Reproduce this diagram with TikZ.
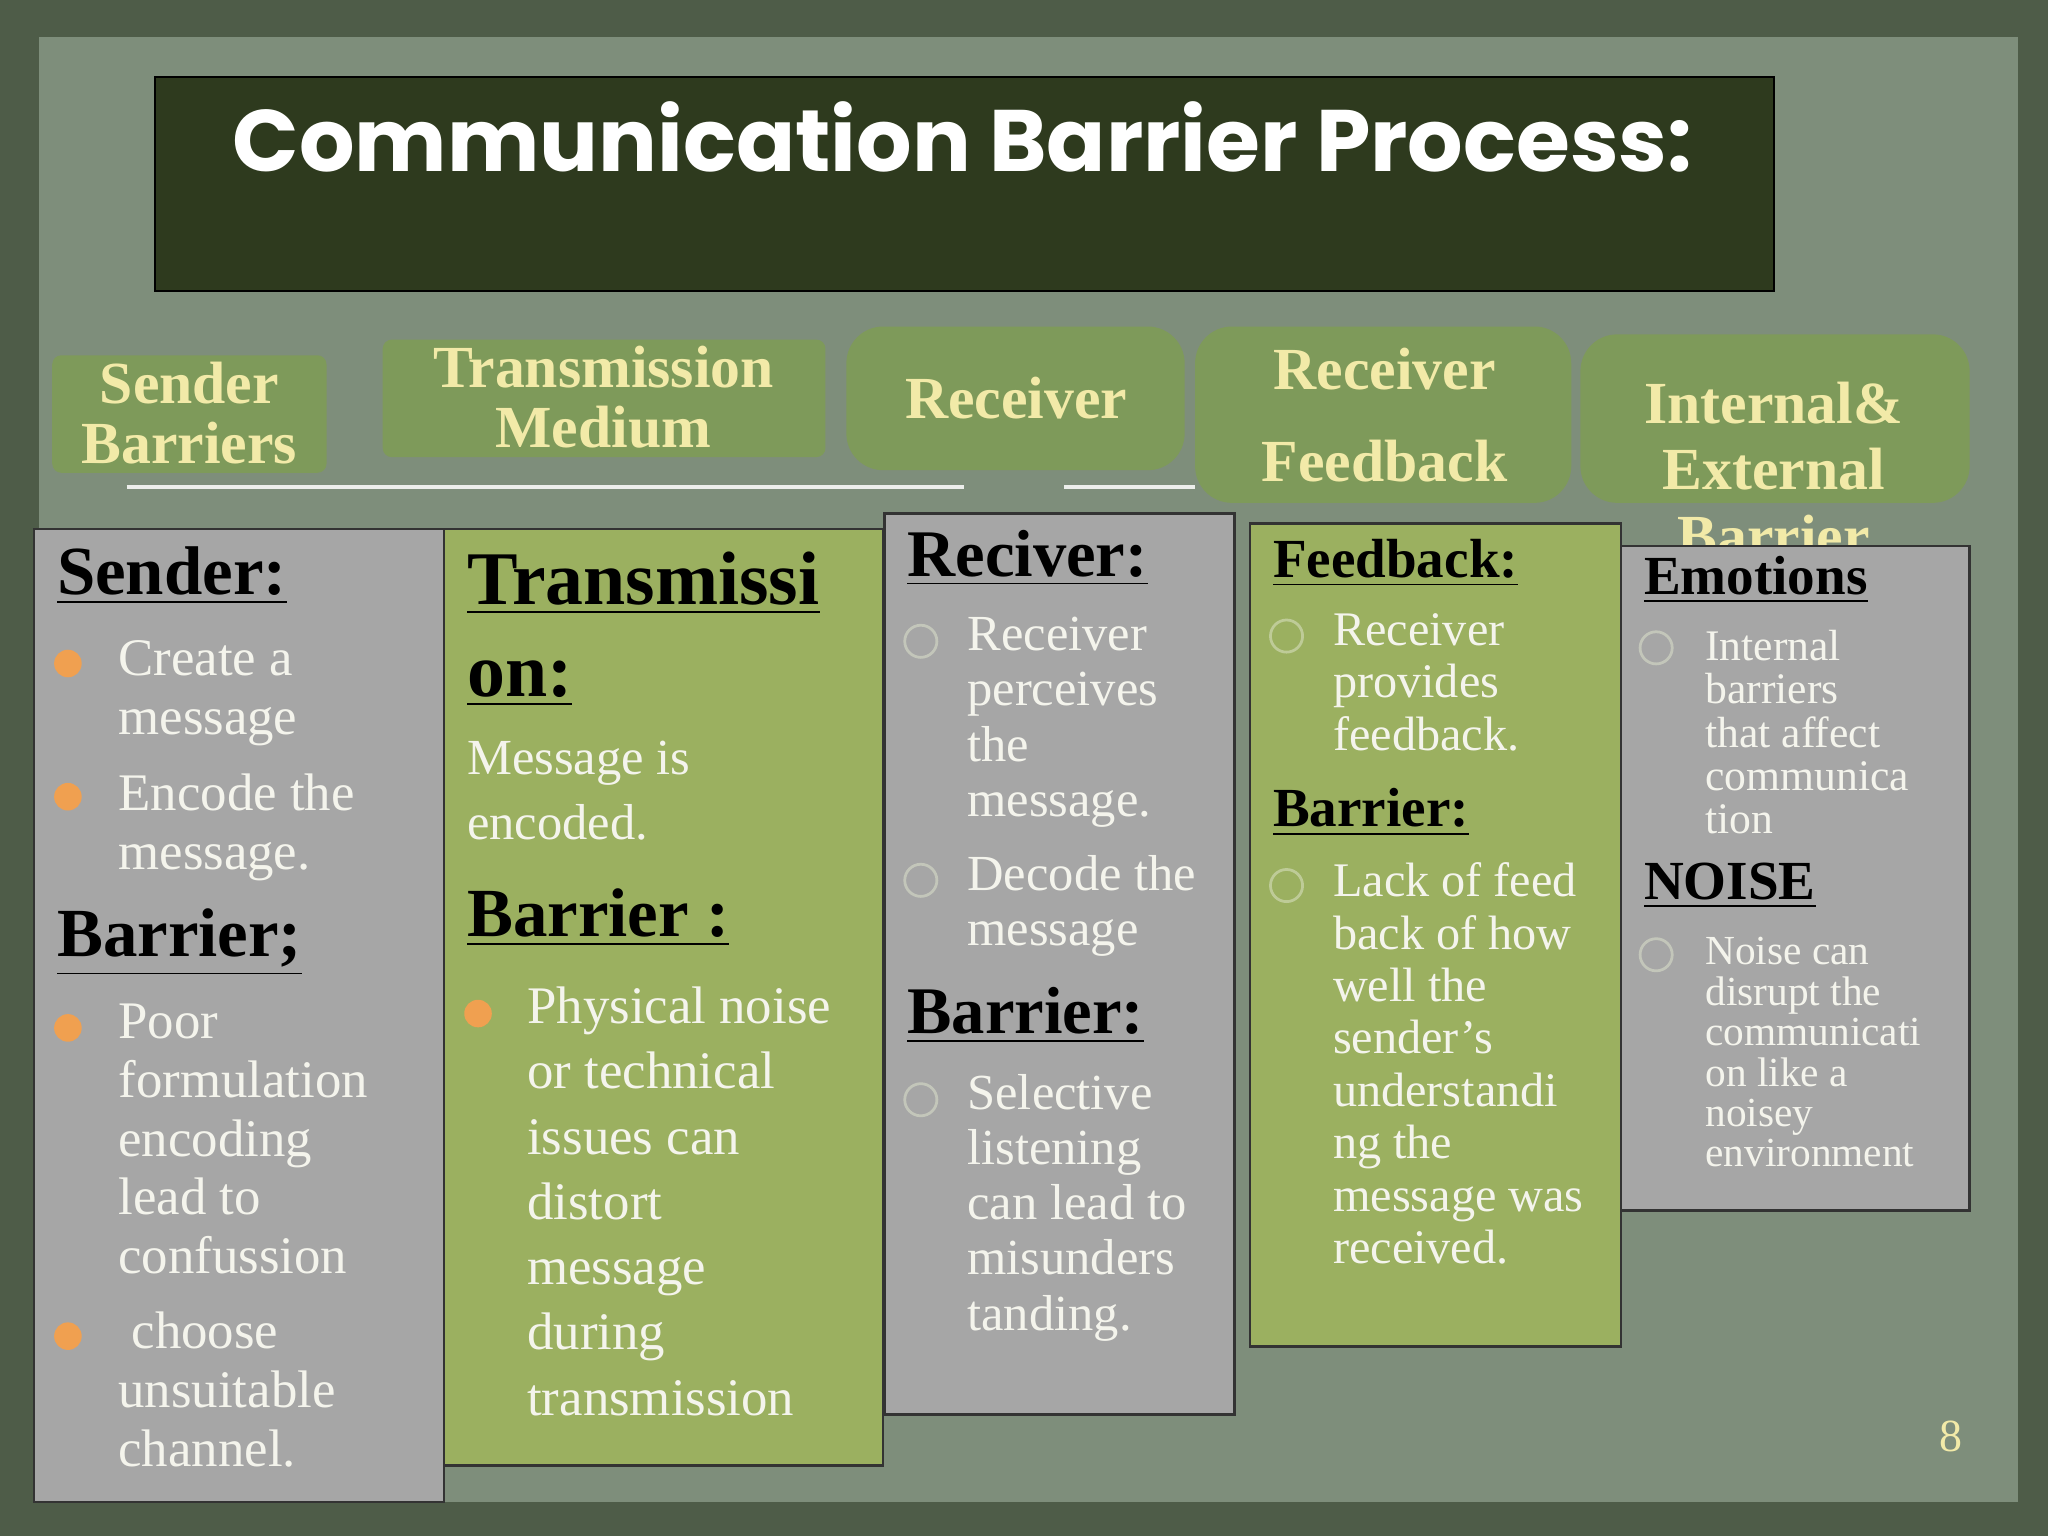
\documentclass[tikz,border=0pt]{standalone}
\usepackage{fontspec}
\setmainfont{Liberation Serif}
\newfontfamily\titlefont{Poppins}
\definecolor{bgout}{HTML}{4E5C48}
\definecolor{bgin}{HTML}{7E8E7B}
\definecolor{titlebg}{HTML}{2E3A1E}
\definecolor{tabg}{HTML}{7E9A5A}
\definecolor{cream}{HTML}{F2EAA8}
\definecolor{colgrey}{HTML}{A6A6A6}
\definecolor{colgreen}{HTML}{9BB060}
\definecolor{bul}{HTML}{F0A050}
\definecolor{txt}{HTML}{F4F4EC}
\tikzset{
 px/.style={x=0.01cm,y=-0.01cm},
 tab/.style={fill=tabg,draw=none,rounded corners=8pt},
 tabtxt/.style={text=cream,font=\bfseries\fontsize{13}{13}\selectfont,align=center},
 col/.style={draw=black!80,line width=0.6pt},
 head/.style={anchor=north west,inner sep=0pt,align=left,font=\bfseries\fontsize{16}{20}\selectfont,text=black},
 body/.style={anchor=north west,inner sep=0pt,align=left,text=txt},
 dot/.style={circle,fill=bul,inner sep=0pt,minimum size=6pt},
 ring/.style={circle,draw=white!70!colgreen,line width=0.6pt,inner sep=0pt,minimum size=7pt,opacity=0.5}
}
\begin{document}
\begin{tikzpicture}[px]
\useasboundingbox (0,0) rectangle (1568,1176);
\fill[bgout] (0,0) rectangle (1568,1176);
\fill[bgin] (30,28) rectangle (1545,1150);
\node[draw=black,fill=titlebg,minimum width=12.39cm,minimum height=1.64cm,anchor=north west] (title) at (118,58) {};
\node[text=white,font=\titlefont\bfseries\fontsize{19}{22}\selectfont] (tt) at (737,105) {Communication Barrier Process:};
% tabs
\fill[tab,rounded corners=2pt] (40,272) rectangle (250,362);
\node[tabtxt] (t1) at (145,316) {Sender\\Barriers};
\fill[tab,rounded corners=2pt] (293,260) rectangle (632,350);
\node[tabtxt] (t2) at (462,304) {Transmission\\Medium};
\fill[tab] (648,250) rectangle (907,360);
\node[tabtxt] (t3) at (778,305) {Receiver};
\fill[tab] (915,250) rectangle (1203,385);
\node[tabtxt,font=\bfseries\fontsize{13}{20}\selectfont] (t4) at (1060,318) {Receiver\\Feedback};
\fill[tab] (1210,256) rectangle (1508,385);
\node[tabtxt,font=\bfseries\fontsize{13}{14.5}\selectfont,anchor=north] (t5) at (1358,280) {Internal\&\\External\\Barrier};
\draw[white!85!bgin,line width=0.8pt] (97,373) -- (738,373) (815,373) -- (915,373);
% column 1
\draw[col,fill=colgrey] (26,405) rectangle (340,1150);
\node[head,font=\bfseries\fontsize{15}{20}\selectfont] (h1) at (43,418) {\underline{Sender:}};
\node[dot] (b11) at (52,508) {};
\node[body,font=\fontsize{11.5}{12.8}\selectfont] (c11) at (90,490) {Create a\\message};
\node[dot] (b12) at (52,610) {};
\node[body,font=\fontsize{11.5}{12.8}\selectfont] (c12) at (90,592) {Encode the\\message.};
\node[head,font=\bfseries\fontsize{15}{20}\selectfont] (h12) at (43,695) {\underline{Barrier;}};
\node[dot] (b13) at (52,787) {};
\node[body,font=\fontsize{11.5}{12.8}\selectfont] (c13) at (90,768) {Poor\\formulation\\encoding\\lead to\\confussion};
\node[dot] (b14) at (52,1023) {};
\node[body,font=\fontsize{11.5}{12.8}\selectfont] (c14) at (90,1004) {\ choose\\unsuitable\\channel.};
% column 2
\draw[col,fill=colgreen] (340,405) rectangle (676,1122);
\node[head,font=\bfseries\fontsize{16.5}{20}\selectfont] (h2) at (357,422) {\underline{Transmissi}\\\underline{on:}};
\node[head,font=\fontsize{11}{14}\selectfont,text=txt] (c21) at (357,567) {Message is\\encoded.};
\node[head,font=\bfseries\fontsize{15}{20}\selectfont] (h22) at (357,680) {\underline{Barrier :}};
\node[dot] (b21) at (366,776) {};
\node[body,font=\fontsize{11.5}{14.2}\selectfont] (c22) at (403,755) {Physical noise\\or technical\\issues can\\distort\\message\\during\\transmission};
% column 3
\draw[col,fill=colgrey] (677,393) rectangle (945,1083);
\node[head,font=\bfseries\fontsize{14.5}{20}\selectfont] (h3) at (694,405) {\underline{Reciver:}};
\node[ring] (b31) at (705,491) {};
\node[body,font=\fontsize{11}{12}\selectfont] (c31) at (740,472) {Receiver\\perceives\\the\\message.};
\node[ring] (b32) at (705,674) {};
\node[body,font=\fontsize{11}{12}\selectfont] (c32) at (740,654) {Decode the\\message};
\node[head,font=\bfseries\fontsize{14.5}{20}\selectfont] (h32) at (694,755) {\underline{Barrier:}};
\node[ring] (b33) at (705,842) {};
\node[body,font=\fontsize{11}{12}\selectfont] (c33) at (740,822) {Selective\\listening\\can lead to\\misunders\\tanding.};
% column 4
\draw[col,fill=colgreen] (957,401) rectangle (1241,1031);
\node[head,font=\bfseries\fontsize{12}{16}\selectfont] (h4) at (974,412) {\underline{Feedback:}};
\node[ring] (b41) at (985,487) {};
\node[body,font=\fontsize{10.5}{11.4}\selectfont] (c41) at (1020,469) {Receiver\\provides\\feedback.};
\node[head,font=\bfseries\fontsize{12}{16}\selectfont] (h42) at (974,603) {\underline{Barrier:}};
\node[ring] (b42) at (985,678) {};
\node[body,font=\fontsize{10.5}{11.4}\selectfont] (c42) at (1020,660) {Lack of feed\\back of how\\well the\\sender's\\understandi\\ng the\\message was\\received.};
% column 5
\draw[col,fill=colgrey] (1241,418) rectangle (1508,927);
\node[head,font=\bfseries\fontsize{12}{16}\selectfont] (h5) at (1258,425) {\underline{Emotions}};
\node[ring] (b51) at (1268,496) {};
\node[body,font=\fontsize{9.5}{9.4}\selectfont] (c51) at (1305,482) {Internal\\barriers\\that affect\\communica\\tion};
\node[head,font=\bfseries\fontsize{12}{16}\selectfont] (h52) at (1258,660) {\underline{NOISE}};
\node[ring] (b52) at (1268,731) {};
\node[body,font=\fontsize{9}{8.8}\selectfont] (c52) at (1305,717) {Noise can\\disrupt the\\communicati\\on like a\\noisey\\environment};
\node[text=cream,font=\fontsize{10}{12}\selectfont] (pg) at (1494,1100) {8};
\end{tikzpicture}
\end{document}
